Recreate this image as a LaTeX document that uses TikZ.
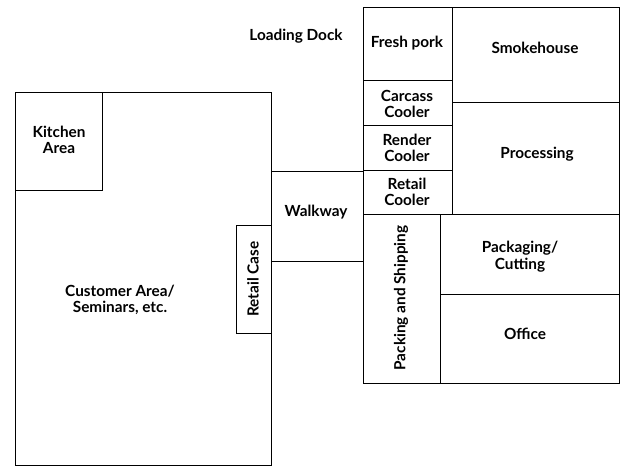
\documentclass[tikz,border=0pt]{standalone}
\usepackage{fontspec}
\setmainfont{Lato}
\begin{document}
\begin{tikzpicture}[x=0.75pt,y=-0.75pt,line width=0.6pt,
  room/.style={draw=black},
  lbl/.style={font=\bfseries\fontsize{11.5}{12.5}\selectfont,align=center,text=black}]
	\useasboundingbox (0,0) rectangle (632,475);
	
	% Main hall
	\draw[room] (15,92) rectangle (271,465);
	\draw[room] (15,92) rectangle (102,190);
	\draw[room] (236,225) rectangle (271,333);
	\draw[room] (271,171) rectangle (363,261);
	
	% Plant
	\draw[room] (363,7) rectangle (619,383);
	\draw[room] (363,7) rectangle (452,80);
	\draw[room] (452,7) rectangle (619,102);
	\foreach \ya/\yb in {80/125,125/170,170/214}
	\draw[room] (363,\ya) rectangle (452,\yb);
	\draw[room] (452,102) rectangle (619,214);
	\draw[room] (363,214) rectangle (440,383);
	\draw[room] (440,214) rectangle (619,294);
	
	% Labels
	\node[lbl] (dock) at (296,36) {Loading Dock};
	\node[lbl] (kitchen) at (59,140) {Kitchen\\Area};
	\node[lbl] (cust) at (120,300) {Customer Area/\\Seminars, etc.};
	\node[lbl,rotate=90] (rcase) at (253,279) {Retail Case};
	\node[lbl] (walk) at (316,212) {Walkway};
	\node[lbl] (pork) at (407,43) {Fresh pork};
	\node[lbl] (smoke) at (535,48) {Smokehouse};
	\node[lbl] (carcass) at (407,104) {Carcass\\Cooler};
	\node[lbl] (render) at (407,148) {Render\\Cooler};
	\node[lbl] (rcool) at (407,192) {Retail\\Cooler};
	\node[lbl] (proc) at (537,154) {Processing};
	\node[lbl,rotate=90] (pack) at (401,298) {Packing and Shipping};
	\node[lbl] (cut) at (520,257) {Packaging/\\Cutting};
	\node[lbl] (office) at (525,334) {Office};
\end{tikzpicture}
\end{document}
